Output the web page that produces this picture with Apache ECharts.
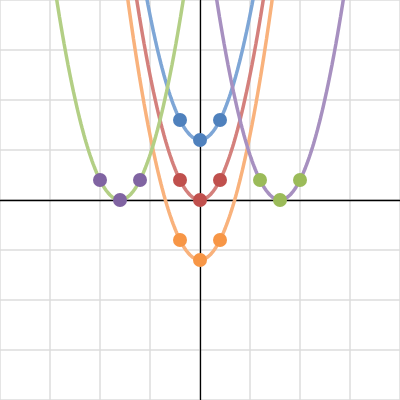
<!DOCTYPE html>
<html><head><meta charset="utf-8">
<script src="https://cdn.jsdelivr.net/npm/echarts@6/dist/echarts.min.js"></script>
<style>html,body{margin:0;padding:0;background:#fff}#c{width:400px;height:400px}</style>
</head><body><div id="c"></div>
<script>
// parabolas y = a*(x-h)^2 + k
const names = ['blue','red','orange','green','purple'];
const curveA = [2.5, 2.5, 2.5, 2.5, 2.5];
const curveH = [0, 0, 0, -1.6, 1.6];
const curveK = [1.2, 0, -1.2, 0, 0];
const curveColors = ['#7ea6d6','#d4807c','#f9b27c','#b3cf85','#a790c0'];
// marked points (x, y) per curve, and their dot colours
const dotsX = [[-0.4,0,0.4],[-0.4,0,0.4],[-0.4,0,0.4],[-2,-1.6,-1.2],[1.2,1.6,2]];
const dotsY = [[1.6,1.2,1.6],[0.4,0,0.4],[-0.8,-1.2,-0.8],[0.4,0,0.4],[0.4,0,0.4]];
const dotColors = ['#4f81bd','#c0504d','#f79646','#8064a2','#9bbb59'];

const series = [];
names.forEach((n,i)=>{
  const pts=[];
  for(let x=-4;x<=4.0001;x+=0.01){const y=curveA[i]*(x-curveH[i])**2+curveK[i]; if(y<5) pts.push([x,y]);}
  series.push({type:'line',data:pts,showSymbol:false,smooth:false,lineStyle:{color:curveColors[i],width:3.5},silent:true,z:2});
});
names.forEach((n,i)=>{
  series.push({type:'scatter',data:dotsX[i].map((x,j)=>[x,dotsY[i][j]]),symbolSize:14,itemStyle:{color:dotColors[i],opacity:1},z:3});
});
const ax = {type:'value',min:-4,max:4,interval:1,axisLabel:{show:false},axisTick:{show:false},
  axisLine:{onZero:true,lineStyle:{color:'#000',width:1.3}},splitLine:{lineStyle:{color:'#dddddd',width:1.5}}};
echarts.init(document.getElementById('c')).setOption({
  animation:false,
  grid:{left:-4.5,top:-4.5,width:405,height:405},
  xAxis:ax, yAxis:ax, series
});
</script></body></html>
